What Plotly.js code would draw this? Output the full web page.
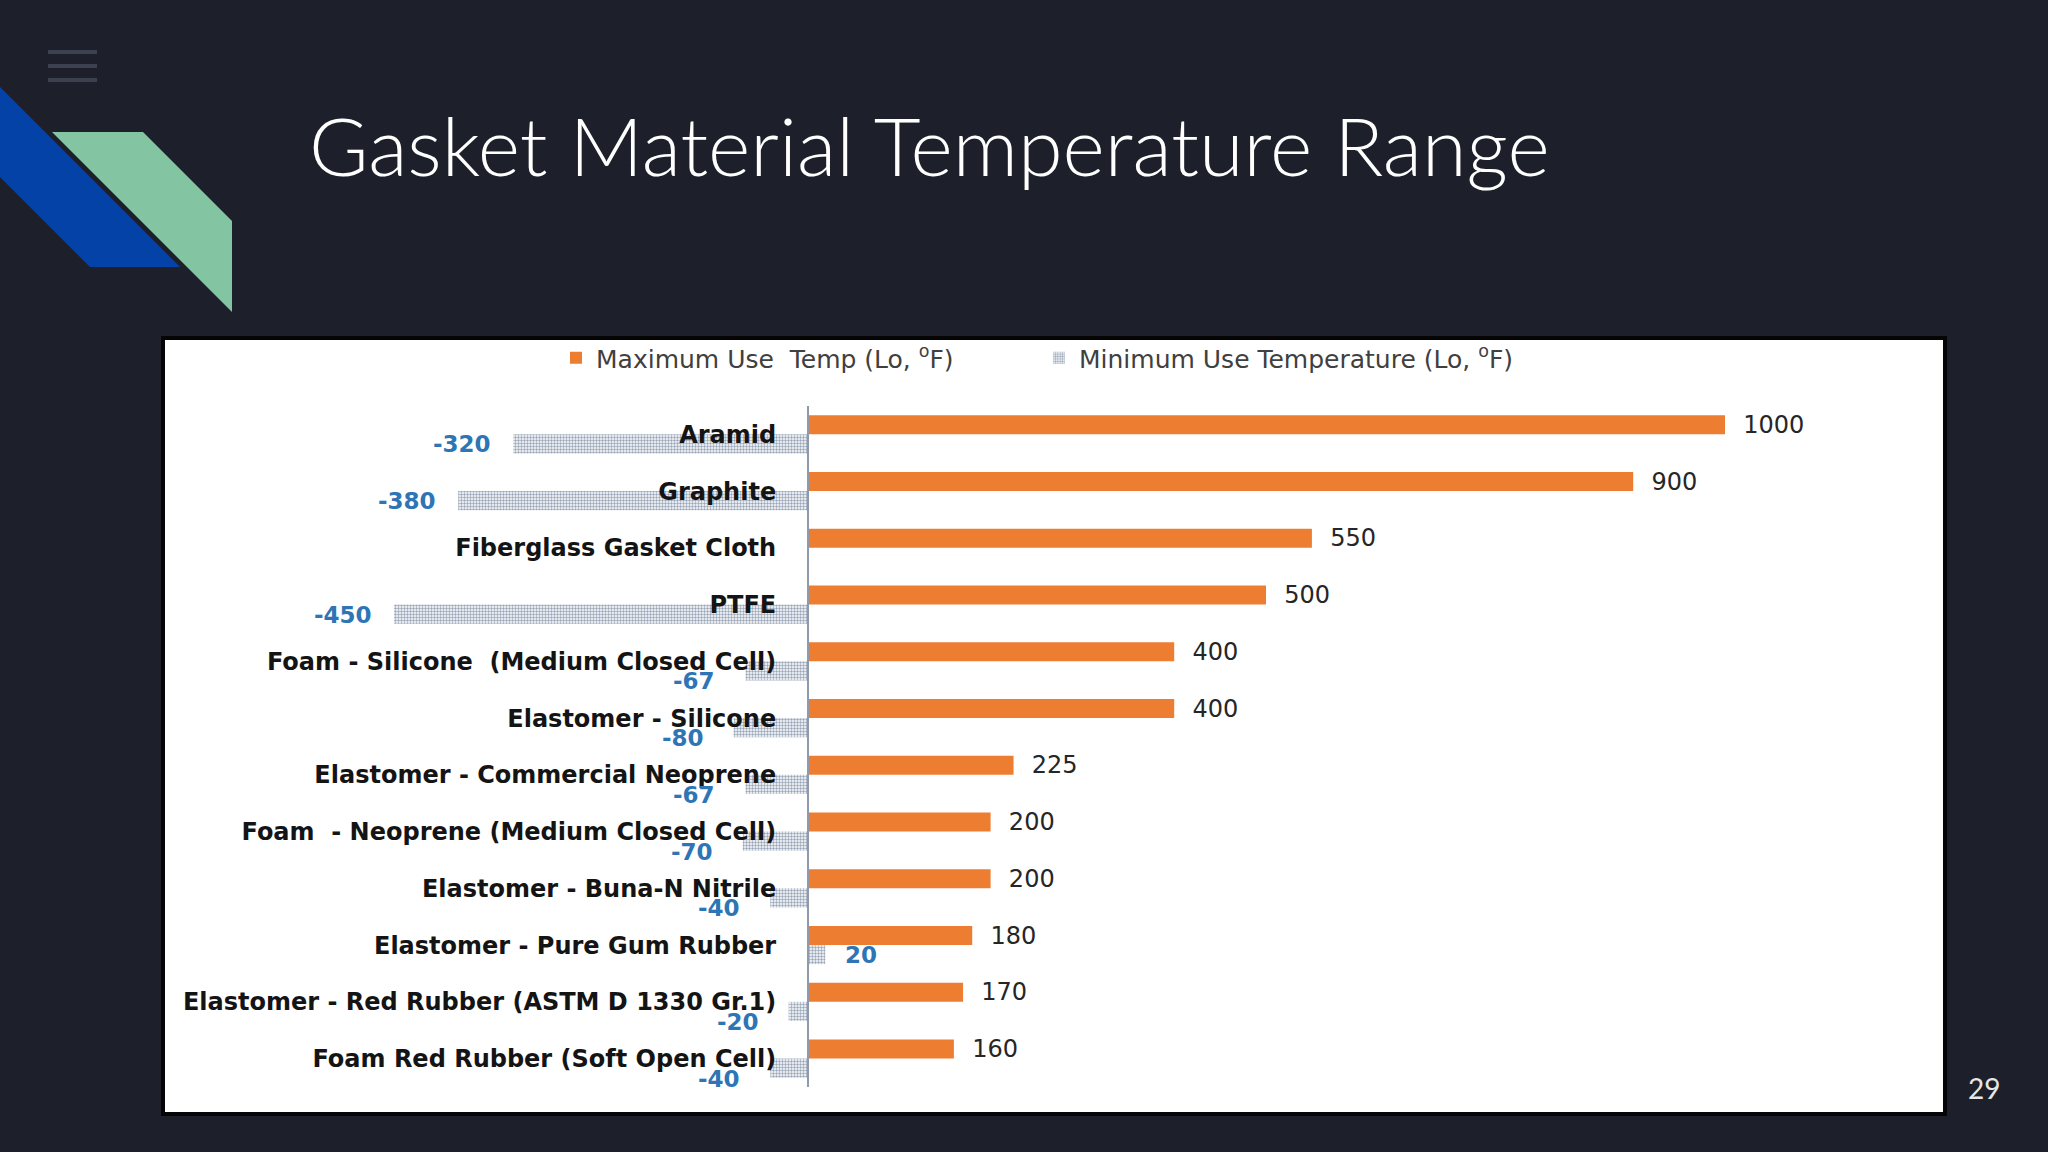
<!DOCTYPE html>
<html>
<head>
<meta charset="utf-8">
<script src="https://cdn.plot.ly/plotly-3.0.1.min.js"></script>
<style>
  html, body { margin: 0; padding: 0; background: #1d202b; }
  #chart { width: 2048px; height: 1152px; }
</style>
</head>
<body>
<div id="chart"></div>
<script>
// ---------- data ----------
const categories = [
  'Aramid',
  'Graphite',
  'Fiberglass Gasket Cloth',
  'PTFE',
  'Foam - Silicone \u00a0(Medium Closed Cell)',
  'Elastomer - Silicone',
  'Elastomer - Commercial Neoprene',
  'Foam \u00a0- Neoprene (Medium Closed Cell)',
  'Elastomer - Buna-N Nitrile',
  'Elastomer - Pure Gum Rubber',
  'Elastomer - Red Rubber (ASTM D 1330 Gr.1)',
  'Foam Red Rubber (Soft Open Cell)'
];
const maxTemp = [1000, 900, 550, 500, 400, 400, 225, 200, 200, 180, 170, 160];
const minTemp = [-320, -380, null, -450, -67, -80, -67, -70, -40, 20, -20, -40];
const seriesNames = [
  'Maximum Use \u00a0Temp (Lo, <sup>o</sup>F)',
  'Minimum Use Temperature (Lo, <sup>o</sup>F)'
];
const titleText = 'Gasket Material Temperature Range';
const pageNumber = '29';

// ---------- page geometry helpers (pixel -> paper) ----------
const W = 2048, H = 1152;
const X = px => px / W;
const Y = py => 1 - py / H;

const ORANGE = '#ed7d31';
const BLUE_LABEL = '#2e75b6';

const traces = [
  {
    type: 'bar',
    orientation: 'h',
    name: seriesNames[0],
    legend: 'legend',
    y: categories,
    x: maxTemp,
    marker: { color: ORANGE, line: { width: 0 } },
    text: maxTemp.map(v => '\u00a0\u00a0' + v),
    textposition: 'outside',
    constraintext: 'none',
    cliponaxis: false,
    textfont: { family: 'DejaVu Sans', size: 24, color: '#262626' },
    hoverinfo: 'none'
  },
  {
    type: 'bar',
    orientation: 'h',
    name: seriesNames[1],
    legend: 'legend2',
    y: categories,
    x: minTemp,
    marker: {
      color: '#9aa8b8',
      line: { width: 0 },
      pattern: { shape: '.', fgcolor: '#98a6b7', bgcolor: '#ffffff', size: 3, solidity: 0.5 }
    },
    hoverinfo: 'none'
  }
];

// value labels for the minimum series
const minAnnotations = [];
categories.forEach((c, i) => {
  const v = minTemp[i];
  if (v === null) return;
  const big = v < -100;
  minAnnotations.push({
    x: v, y: c, xref: 'x', yref: 'y',
    text: String(v),
    showarrow: false,
    xanchor: v < 0 ? 'right' : 'left',
    yanchor: 'middle',
    xshift: v < 0 ? (big ? -20 : -28) : 18,
    yshift: (v < 0 && !big) ? -20 : -10,
    font: { family: 'DejaVu Sans', size: 23, color: BLUE_LABEL, weight: 'bold' }
  });
});

const shapes = [
  // white chart panel
  { type: 'rect', xref: 'paper', yref: 'paper', layer: 'below',
    x0: X(163), x1: X(1945), y0: Y(338), y1: Y(1114),
    fillcolor: '#ffffff', line: { color: '#050505', width: 4 } },
  // hamburger icon
  ...[52, 66, 80].map(py => ({
    type: 'line', xref: 'paper', yref: 'paper', layer: 'below',
    x0: X(48), x1: X(97), y0: Y(py), y1: Y(py),
    line: { color: '#3b4151', width: 4 }
  })),
  // blue band
  { type: 'path', xref: 'paper', yref: 'paper', layer: 'below',
    path: `M ${X(0)},${Y(87)} L ${X(180)},${Y(267)} L ${X(90)},${Y(267)} L ${X(0)},${Y(177)} Z`,
    fillcolor: '#0442a7', line: { width: 0 } },
  // green band
  { type: 'path', xref: 'paper', yref: 'paper', layer: 'below',
    path: `M ${X(52)},${Y(132)} L ${X(143)},${Y(132)} L ${X(232)},${Y(221)} L ${X(232)},${Y(312)} Z`,
    fillcolor: '#83c5a3', line: { width: 0 } }
];

const legendCommon = {
  orientation: 'h',
  yanchor: 'middle',
  xref: 'paper', yref: 'paper',
  bgcolor: 'rgba(0,0,0,0)',
  font: { family: 'DejaVu Sans', size: 25, color: '#404040' }
};

const layout = {
  width: W, height: H,
  margin: { l: 0, r: 0, t: 0, b: 0, pad: 0 },
  paper_bgcolor: '#1d202b',
  plot_bgcolor: 'rgba(0,0,0,0)',
  showlegend: true,
  barmode: 'group',
  bargap: 0.33,
  bargroupgap: 0,
  title: {
    text: titleText,
    xref: 'paper', yref: 'paper',
    x: X(309), xanchor: 'left',
    y: Y(148), yanchor: 'middle',
    font: { family: 'Lato', size: 81, color: '#ffffff', weight: 300 }
  },
  xaxis: {
    domain: [X(163), X(1945)],
    range: [-(807 - 163) / 0.918, (1945 - 807) / 0.918],
    visible: false,
    fixedrange: true
  },
  yaxis: {
    type: 'category',
    categoryorder: 'array',
    categoryarray: categories,
    autorange: 'reversed',
    domain: [Y(1087), Y(406)],
    anchor: 'free',
    position: X(807),
    showline: true,
    linecolor: '#8e9aab',
    linewidth: 1.5,
    ticks: '',
    showgrid: false,
    zeroline: false,
    ticklabelstandoff: 26,
    tickfont: { family: 'DejaVu Sans', size: 24, color: '#141414', weight: 'bold' },
    fixedrange: true
  },
  legend: Object.assign({}, legendCommon, { x: X(556), y: Y(358), xanchor: 'left' }),
  legend2: Object.assign({}, legendCommon, { x: X(1039), y: Y(358), xanchor: 'left' }),
  shapes: shapes,
  annotations: [
    ...minAnnotations,
    { xref: 'paper', yref: 'paper', x: X(1984), y: Y(1088),
      xanchor: 'center', yanchor: 'middle', showarrow: false,
      text: pageNumber,
      font: { family: 'Lato', size: 28, color: '#e6e6e6' } }
  ]
};

Plotly.newPlot('chart', traces, layout, { displayModeBar: false, staticPlot: true });
</script>
</body>
</html>
